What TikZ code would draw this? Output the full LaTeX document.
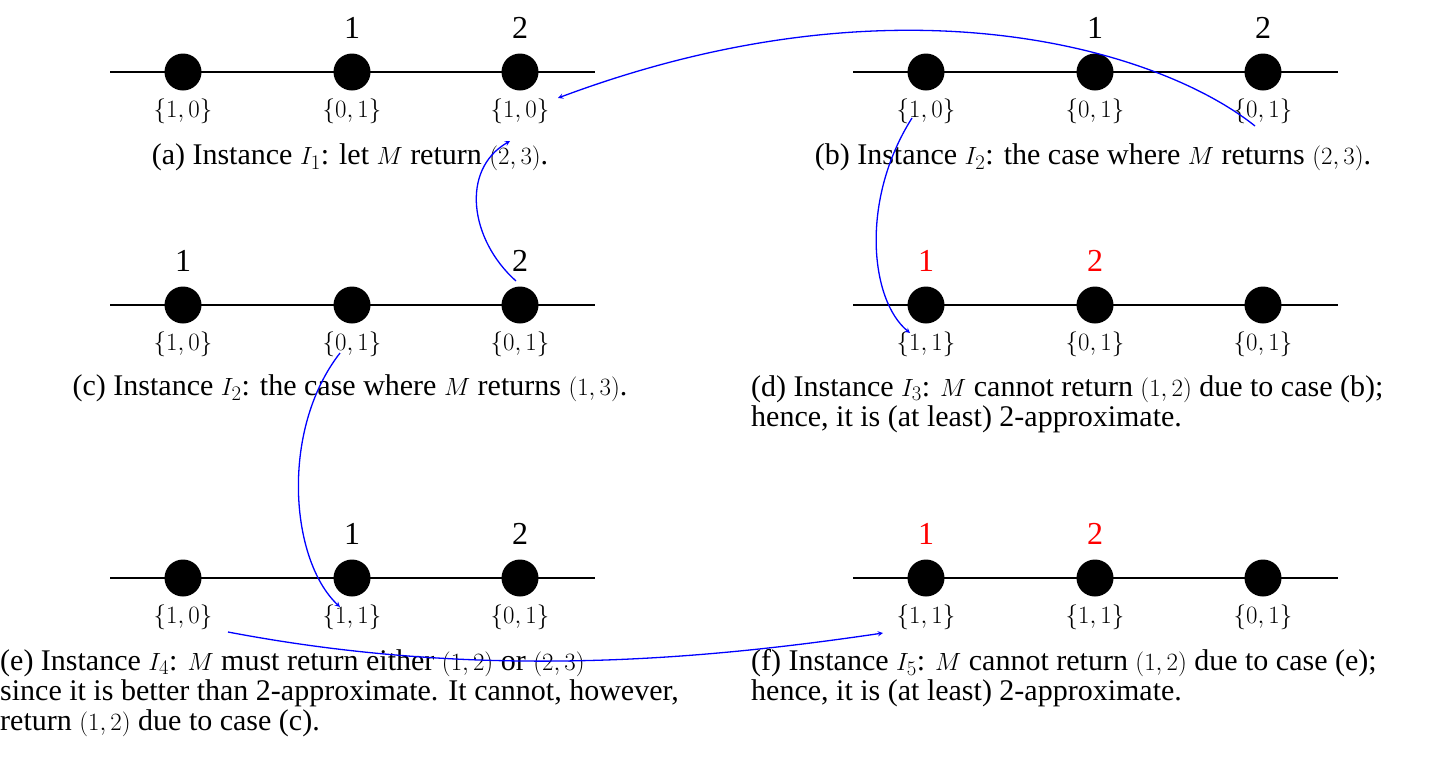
\documentclass[tikz,border=0pt]{standalone}
\usepackage{fontspec}
\setmainfont{Liberation Serif}
\begin{document}
\begin{tikzpicture}[x=1pt,y=-1pt,
 dot/.style={circle,fill=black,inner sep=0pt,minimum size=37pt},
 lab/.style={font=\fontsize{32}{34}\selectfont},
 captxt/.style={font=\fontsize{30}{30}\selectfont,align=left,anchor=west,inner sep=0pt},
 arr/.style={blue,line width=1.3pt,-stealth}]
\useasboundingbox (0,0) rectangle (1450,780);
\newcommand{\panel}[9]{%
 \draw[line width=1.3pt] (#2-73,#3) -- (#2+412,#3);
 \node[dot] (#1d1) at (#2,#3) {};
 \node[dot] (#1d2) at (#2+169,#3) {};
 \node[dot] (#1d3) at (#2+337,#3) {};
 \node[lab] (#1t1) at (#2,#3-44) {#4};
 \node[lab] (#1t2) at (#2+169,#3-44) {#5};
 \node[lab] (#1t3) at (#2+337,#3-44) {#6};
 \node[lab] (#1b1) at (#2,#3+39) {$\{#7\}$};
 \node[lab] (#1b2) at (#2+169,#3+39) {$\{#8\}$};
 \node[lab] (#1b3) at (#2+337,#3+39) {$\{#9\}$};}
\panel{a}{183}{72}{}{1}{2}{1,0}{0,1}{1,0}
\panel{b}{926}{72}{}{1}{2}{1,0}{0,1}{0,1}
\panel{c}{183}{305}{1}{}{2}{1,0}{0,1}{0,1}
\panel{d}{926}{305}{\textcolor{red}{1}}{\textcolor{red}{2}}{}{1,1}{0,1}{0,1}
\panel{e}{183}{578}{}{1}{2}{1,0}{1,1}{0,1}
\panel{f}{926}{578}{\textcolor{red}{1}}{\textcolor{red}{2}}{}{1,1}{1,1}{0,1}
\node[captxt,anchor=center] (ca) at (350,157) {(a) Instance $I_1$: let $M$ return $(2,3)$.};
\node[captxt,anchor=center] (cb) at (1093,157) {(b) Instance $I_2$: the case where $M$ returns $(2,3)$.};
\node[captxt,anchor=center] (cc) at (350,388) {(c) Instance $I_2$: the case where $M$ returns $(1,3)$.};
\node[captxt,anchor=north west] (cd) at (751,375) {(d) Instance $I_3$: $M$ cannot return $(1,2)$ due to case (b);\\hence, it is (at least) 2-approximate.};
\node[captxt,anchor=north west] (ce) at (0,649) {(e) Instance $I_4$: $M$ must return either $(1,2)$ or $(2,3)$\\since it is better than 2-approximate. It cannot, however,\\return $(1,2)$ due to case (c).};
\node[captxt,anchor=north west] (cf) at (751,649) {(f) Instance $I_5$: $M$ cannot return $(1,2)$ due to case (e);\\hence, it is (at least) 2-approximate.};
\draw[arr] (1255,126) .. controls (1160,50) and (900,-30) .. (558,98);
\draw[arr] (912,118) .. controls (860,200) and (870,300) .. (910,333);
\draw[arr] (516,281) .. controls (470,240) and (460,170) .. (510,141);
\draw[arr] (340,353) .. controls (280,430) and (290,560) .. (340,607);
\draw[arr] (228,632) .. controls (480,680) and (700,660) .. (883,633);
\end{tikzpicture}
\end{document}
